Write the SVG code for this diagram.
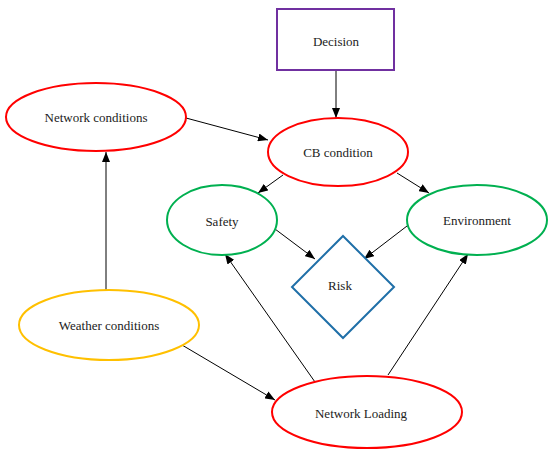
<svg xmlns="http://www.w3.org/2000/svg" width="550" height="461" viewBox="0 0 550 461">
<defs>
<marker id="ah" markerWidth="10" markerHeight="8" refX="10" refY="4" orient="auto" markerUnits="userSpaceOnUse">
<path d="M0,0 L10,4 L0,8 Z" fill="#000"/>
</marker>
<style>
text{font-family:"Liberation Serif","Times New Roman",serif;font-size:13px;fill:#222;text-anchor:middle;dominant-baseline:central}
.red{fill:#fff;stroke:#ff0000;stroke-width:2}
.green{fill:#fff;stroke:#00b050;stroke-width:2}
.yellow{fill:#fff;stroke:#ffc000;stroke-width:2}
.conn line{stroke:#000;stroke-width:1;marker-end:url(#ah)}
</style>
</defs>
<rect width="550" height="461" fill="#fff"/>
<g class="conn">
<line x1="336" y1="70" x2="336" y2="118"/>
<line x1="186" y1="118" x2="268" y2="140"/>
<line x1="283" y1="175" x2="258" y2="193"/>
<line x1="397" y1="173" x2="429" y2="193"/>
<line x1="275" y1="229" x2="315" y2="259"/>
<line x1="407" y1="226" x2="364" y2="259"/>
<line x1="106" y1="290" x2="106" y2="152"/>
<line x1="182" y1="345" x2="275" y2="400"/>
<line x1="315" y1="382" x2="225" y2="254"/>
<line x1="388" y1="375" x2="468" y2="254"/>
</g>
<g id="decision">
<rect x="277" y="9" width="117" height="61" fill="#fff" stroke="#7030a0" stroke-width="2"/>
<text x="336" y="41">Decision</text>
</g>
<g id="network-conditions">
<ellipse class="red" cx="96" cy="117" rx="90" ry="34"/>
<text x="96" y="117">Network conditions</text>
</g>
<g id="cb-condition">
<ellipse class="red" cx="338" cy="152" rx="70" ry="34"/>
<text x="338" y="152">CB condition</text>
</g>
<g id="safety">
<ellipse class="green" cx="222" cy="220" rx="55" ry="35"/>
<text x="222" y="221">Safety</text>
</g>
<g id="environment">
<ellipse class="green" cx="477" cy="220" rx="70" ry="35"/>
<text x="477" y="220">Environment</text>
</g>
<g id="risk">
<polygon points="343,236 394,287 343,338 292,287" fill="#fff" stroke="#1f6fa8" stroke-width="2"/>
<text x="340" y="285">Risk</text>
</g>
<g id="weather-conditions">
<ellipse class="yellow" cx="109" cy="325" rx="90" ry="35"/>
<text x="109" y="325">Weather conditions</text>
</g>
<g id="network-loading">
<ellipse class="red" cx="367" cy="412" rx="95" ry="36"/>
<text x="361" y="413">Network Loading</text>
</g>
</svg>
